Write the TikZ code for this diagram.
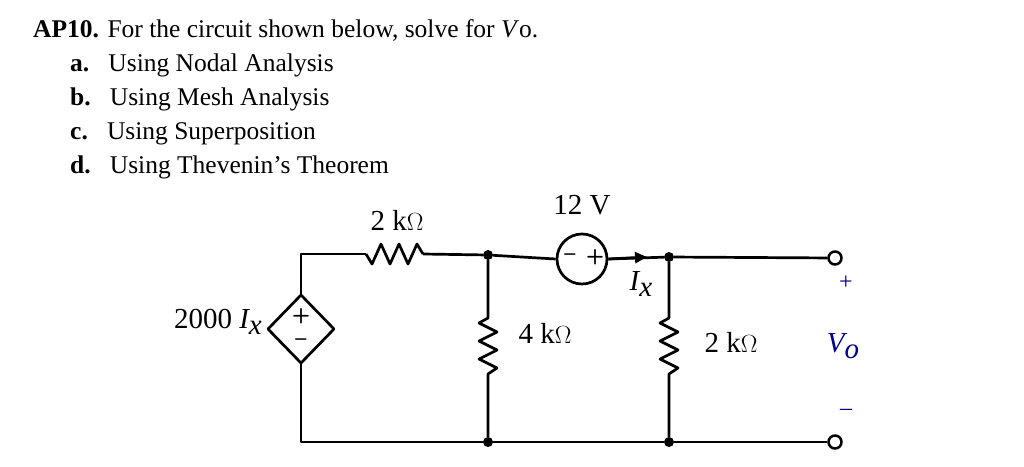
\documentclass[tikz,border=0pt]{standalone}
\usepackage{fontspec}
\setmainfont{Liberation Serif}
\usetikzlibrary{arrows.meta}
\begin{document}
\begin{tikzpicture}[x=1pt,y=-1pt,
  wire/.style={line width=2.7pt,line join=round},
  dot/.style={circle,fill,inner sep=0pt,minimum size=10pt},
  term/.style={circle,draw,line width=2.5pt,fill=white,inner sep=0pt,minimum size=13pt},
  lbl/.style={font=\fontsize{29}{32}\selectfont,inner sep=1pt},
  sgn/.style={font=\sffamily\bfseries\fontsize{21}{21}\selectfont,inner sep=0pt},
  ttl/.style={font=\fontsize{25.5}{30}\selectfont,anchor=base west,inner sep=0pt},
  blu/.style={text=blue!55!black}]
\useasboundingbox (0,0) rectangle (1024,466);
% title
\node[ttl] (t0) at (33,37) {\textbf{AP10.} For the circuit shown below, solve for \textit{V}o.};
\node[ttl] (t1) at (70,71) {\textbf{a.}\ \ \ Using Nodal Analysis};
\node[ttl] (t2) at (70,105) {\textbf{b.}\ \ \ Using Mesh Analysis};
\node[ttl] (t3) at (70,139) {\textbf{c.}\ \ \ Using Superposition};
\node[ttl] (t4) at (70,173) {\textbf{d.}\ \ \ Using Thevenin's Theorem};
% coordinates
\coordinate (tl) at (301,254);
\coordinate (bl) at (301,442);
\coordinate (dn) at (301,295);
\coordinate (ds) at (301,363);
\node[dot] (n1) at (488,255) {};
\node[dot] (n2) at (669,257) {};
\node[dot] (b1) at (488,442) {};
\node[dot] (b2) at (669,442) {};
\node[term] (tp) at (835,258) {};
\node[term] (tm) at (835,442) {};
% dependent source
\draw[wire] (dn) -- (334,329) -- (ds) -- (268,329) -- cycle;
\node[sgn] (dp) at (301,316) {+};
\node[sgn] (dm) at (301,342) {--};
\node[lbl,anchor=east] (dl) at (263,322) {2000 \textit{I\raisebox{-0.4ex}{x}}};
% left loop wires
\draw[wire] (dn) -- (tl) -- (366,254);
\draw[wire] (366,254) -- (372,264) -- (381,244) -- (390,264) -- (399,244) -- (408,264) -- (417,244) -- (423,254);
\draw[wire] (423,254) -- (n1);
\node[lbl] (r1) at (397,220) {2 k$\Omega$};
\draw[wire] (ds) -- (bl) -- (b1) -- (b2) -- (tm);
% 12V source
\node[draw,line width=2.7pt,circle,minimum size=50pt,inner sep=0pt] (vs) at (582,259) {};
\node[sgn] (vm) at (570,257) {--};
\node[sgn] (vp) at (595,257) {+};
\node[lbl] (vl) at (582,205) {12 V};
\draw[wire] (n1) -- (vs.west);
\draw[wire] (vs.east) -- (n2);
\draw[wire,-{Triangle[length=12pt,width=11pt]}] (vs.east) -- (647,257);
\node[lbl] (ix) at (641,284) {\textit{I\raisebox{-0.4ex}{x}}};
\draw[wire] (n2) -- (tp);
% 4k
\draw[wire] (n1) -- (488,318) -- (479,323) -- (497,332) -- (479,341) -- (497,350) -- (479,359) -- (497,368) -- (488,374) -- (b1);
\node[lbl] (r2) at (545,333) {4 k$\Omega$};
% 2k right
\draw[wire] (n2) -- (669,318) -- (660,323) -- (678,332) -- (660,341) -- (678,350) -- (660,359) -- (678,368) -- (669,374) -- (b2);
\node[lbl] (r3) at (731,342) {2 k$\Omega$};
% Vo
\node[font=\fontsize{24}{24}\selectfont,blu] (vop) at (846,283) {+};
\node[font=\fontsize{24}{24}\selectfont,blu] (vom) at (846,412) {--};
\node[lbl,blu] (vo) at (843,346) {\textit{V\raisebox{-0.4ex}{o}}};
\end{tikzpicture}
\end{document}
